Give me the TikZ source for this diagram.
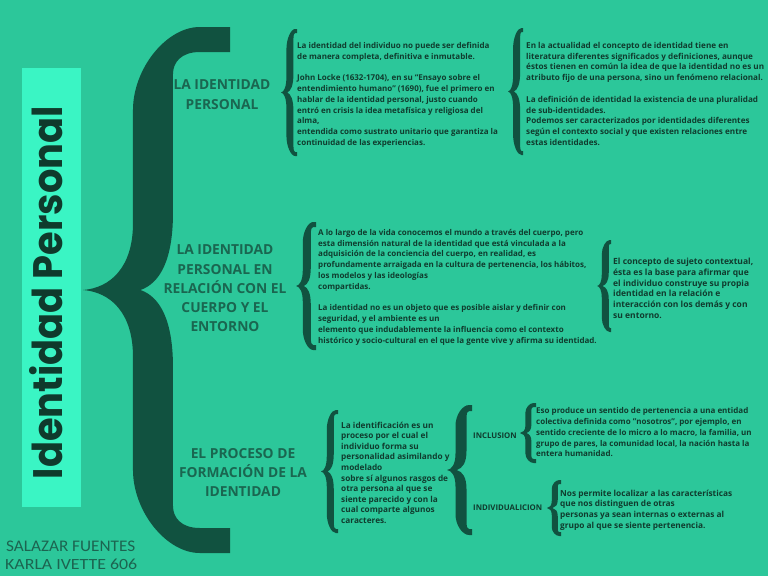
\documentclass[tikz,border=0pt]{standalone}
\usepackage{fontspec}
\setmainfont{Open Sans}
\newfontfamily\titlefont{Poppins}
\newfontfamily\sigfont{Carlito}
\definecolor{bgc}{RGB}{44,199,154}
\definecolor{titlebg}{RGB}{58,245,196}
\definecolor{darkc}{RGB}{17,82,64}
\definecolor{headc}{RGB}{26,102,80}
\definecolor{bodyc}{RGB}{16,60,46}
\definecolor{titlec}{RGB}{15,58,44}
\definecolor{sigc}{RGB}{28,100,80}
% brace: #1 tip x, #2 top y, #3 right x, #4 bottom y, #5 stem thickness, #6 arm thickness
\newcommand\brc[6]{%
 \pgfmathsetmacro\brH{#4-#2}%
 \pgfmathsetmacro\brO{#1+0.34*(#3-#1)}%
 \pgfmathsetmacro\brI{\brO+#5}%
 \pgfmathsetmacro\brM{(#2+#4)/2}%
 \pgfmathsetmacro\brC{\brI+0.47*(#3-\brI)}%
 \pgfmathsetmacro\brK{\brO+0.15*(\brO-#1)}%
 \fill[bracefill]
 (#3,#2) -- (\brC,#2)
 .. controls ({\brO+0.5*(\brC-\brO)},#2) and (\brO,{#2+0.079*\brH}) .. (\brO,{#2+0.158*\brH})
 -- (\brO,{\brM-0.127*\brH})
 .. controls (\brO,{\brM-0.042*\brH}) and ({\brO-0.46*(\brO-#1)},{\brM-0.004*\brH}) .. (#1,\brM)
 .. controls ({\brO-0.46*(\brO-#1)},{\brM+0.004*\brH}) and (\brO,{\brM+0.042*\brH}) .. (\brO,{\brM+0.127*\brH})
 -- (\brO,{#4-0.158*\brH})
 .. controls (\brO,{#4-0.079*\brH}) and ({\brO+0.5*(\brC-\brO)},#4) .. (\brC,#4)
 -- (#3,#4) -- (#3,{#4-#6}) -- (\brC,{#4-#6})
 .. controls ({\brI+0.3*(\brC-\brI)},{#4-#6}) and (\brI,{#4-#6-0.02*\brH}) .. (\brI,{#4-#6-0.042*\brH})
 -- (\brI,{\brM+0.147*\brH})
 .. controls (\brI,{\brM+0.057*\brH}) and ({\brK+0.6*(\brI-\brK)},{\brM+0.013*\brH}) .. (\brK,\brM)
 .. controls ({\brK+0.6*(\brI-\brK)},{\brM-0.013*\brH}) and (\brI,{\brM-0.057*\brH}) .. (\brI,{\brM-0.147*\brH})
 -- (\brI,{#2+#6+0.042*\brH})
 .. controls (\brI,{#2+#6+0.02*\brH}) and ({\brI+0.3*(\brC-\brI)},{#2+#6}) .. (\brC,{#2+#6})
 -- (#3,{#2+#6}) -- cycle;
}
\begin{document}
\begin{tikzpicture}[x=1pt,y=-1pt,
  body/.style={font=\fontsize{8.0}{10.8}\selectfont\bfseries, text=bodyc, align=left, anchor=north west, inner sep=0pt},
  bodybig/.style={body, font=\fontsize{8.5}{10.8}\selectfont\bfseries},
  head/.style={font=\fontsize{13.8}{19.3}\selectfont\bfseries, text=headc, align=center, inner sep=0pt},
  lab/.style={font=\fontsize{7.8}{9}\selectfont\bfseries, text=bodyc, anchor=west, inner sep=0pt},
  sig/.style={text=sigc, anchor=west, inner sep=0pt},
  bracefill/.style={fill=darkc}]
\fill[bgc] (0,0) rectangle (768,576);
\useasboundingbox (0,0) rectangle (768,576);
% title
\fill[titlebg] (22,68) rectangle (81,507);
\node[rotate=90, anchor=base, inner sep=0pt, text=titlec] (title) at (62,292.5)
  {\resizebox{373pt}{33pt}{\titlefont\bfseries Identidad Personal}};
% big brace
\brc{83}{27}{230}{553}{40}{25}
% headings
\node[head] (h1) at (222,94.5) {LA IDENTIDAD\\PERSONAL};
\node[head] (h2) at (225,288.5) {LA IDENTIDAD\\PERSONAL EN\\RELACIÓN CON EL\\CUERPO Y EL\\ENTORNO};
\node[head] (h3) at (243,472.5) {EL PROCESO DE\\FORMACIÓN DE LA\\IDENTIDAD};
% small braces
\brc{281}{29}{297}{156}{7}{4}
\brc{508}{28}{523}{155}{7}{4}
\brc{296}{222}{316}{350}{8}{5}
\brc{597}{240}{611}{332}{7}{4}
\brc{321}{410}{338}{533}{7}{4}
\brc{447}{405}{472}{535}{11}{6}
\brc{520}{403}{536}{463}{6}{4}
\brc{547}{480}{561}{536}{6}{4}
% text blocks
\node[body] (t1) at (297,42) {La identidad del individuo no puede ser definida\\
de manera completa, definitiva e inmutable.\\[10.8pt]
John Locke (1632-1704), en su “Ensayo sobre el\\
entendimiento humano” (1690), fue el primero en\\
hablar de la identidad personal, justo cuando\\
entró en crisis la idea metafísica y religiosa del\\
alma,\\
entendida como sustrato unitario que garantiza la\\
continuidad de las experiencias.};
\node[body, font=\fontsize{8.15}{10.8}\selectfont\bfseries] (t2) at (526,42) {En la actualidad el concepto de identidad tiene en\\
literatura diferentes significados y definiciones, aunque\\
éstos tienen en común la idea de que la identidad no es un\\
atributo fijo de una persona, sino un fenómeno relacional.\\[10.8pt]
La definición de identidad la existencia de una pluralidad\\
de sub-identidades.\\
Podemos ser caracterizados por identidades diferentes\\
según el contexto social y que existen relaciones entre\\
estas identidades.};
\node[body] (t3) at (318,229) {A lo largo de la vida conocemos el mundo a través del cuerpo, pero\\
esta dimensión natural de la identidad que está vinculada a la\\
adquisición de la conciencia del cuerpo, en realidad, es\\
profundamente arraigada en la cultura de pertenencia, los hábitos,\\
los modelos y las ideologías\\
compartidas.\\[10.8pt]
La identidad no es un objeto que es posible aislar y definir con\\
seguridad, y el ambiente es un\\
elemento que indudablemente la influencia como el contexto\\
histórico y socio-cultural en el que la gente vive y afirma su identidad.};
\node[bodybig] (t4) at (613,257.8) {El concepto de sujeto contextual,\\
ésta es la base para afirmar que\\
el individuo construye su propia\\
identidad en la relación e\\
interacción con los demás y con\\
su entorno.};
\node[bodybig, font=\fontsize{8.25}{10.6}\selectfont\bfseries] (t5) at (341,421.5) {La identificación es un\\
proceso por el cual el\\
individuo forma su\\
personalidad asimilando y\\
modelado\\
sobre sí algunos rasgos de\\
otra persona al que se\\
siente parecido y con la\\
cual comparte algunos\\
caracteres.};
\node[lab] (inc) at (473,436) {INCLUSION};
\node[lab] (ind) at (473,508) {INDIVIDUALICION};
\node[body] (t6) at (536,407.5) {Eso produce un sentido de pertenencia a una entidad\\
colectiva definida como "nosotros", por ejemplo, en\\
sentido creciente de lo micro a lo macro, la familia, un\\
grupo de pares, la comunidad local, la nación hasta la\\
entera humanidad.};
\node[body, font=\fontsize{8.3}{10.8}\selectfont\bfseries] (t7) at (560,489.5) {Nos permite localizar a las características\\
que nos distinguen de otras\\
personas ya sean internas o externas al\\
grupo al que se siente pertenencia.};
% signature
\node[sig] (s1) at (6,546) {\resizebox{129pt}{10.5pt}{\sigfont SALAZAR FUENTES}};
\node[sig] (s2) at (5,564) {\resizebox{132pt}{10.5pt}{\sigfont KARLA IVETTE 606}};
\end{tikzpicture}
\end{document}
